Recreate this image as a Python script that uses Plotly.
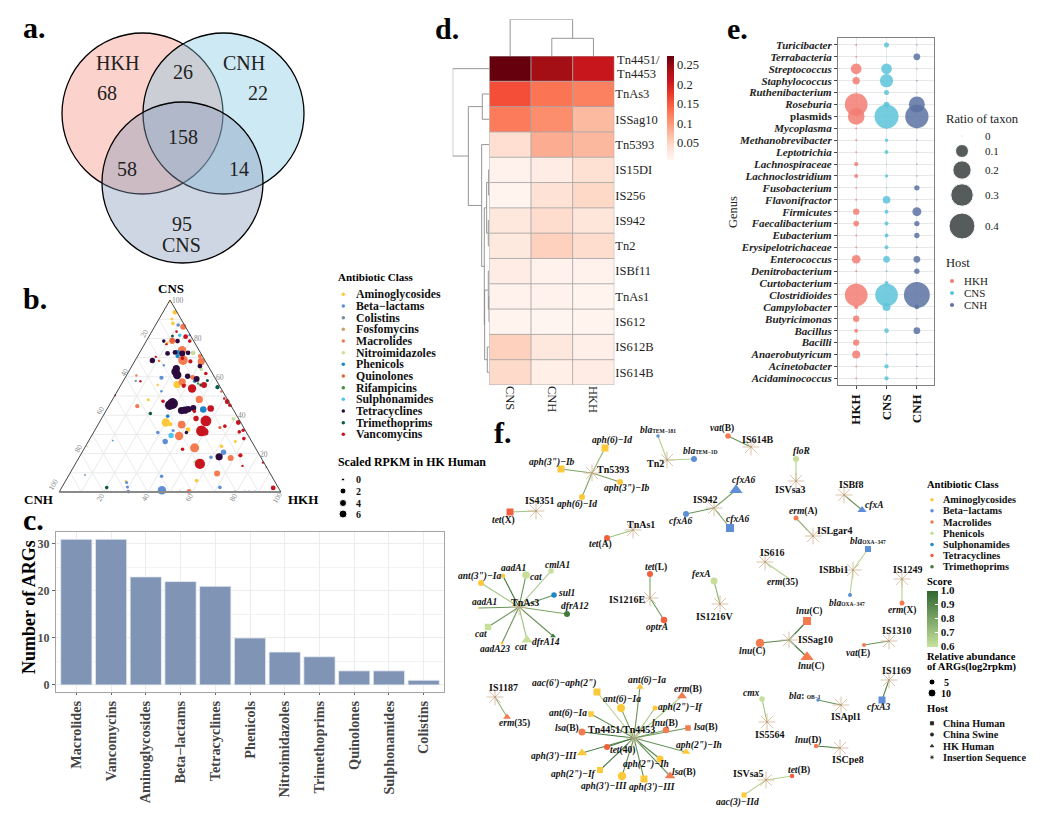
import plotly.graph_objects as go

W, H = 1048, 817
SERIF = "Liberation Serif"

# ---------- panel a: Venn counts
venn_sets = ["HKH", "CNH", "CNS"]
venn_counts = ["68", "22", "95", "26", "58", "14", "158"]

# ---------- panel b: ternary composition (percent CNS, percent HKH, scaled RPKM)
class_names = ["Aminoglycosides", "Beta\u2212lactams", "Colistins", "Fosfomycins", "Macrolides", "Nitroimidazoles",
               "Phenicols", "Quinolones", "Rifampicins", "Sulphonamides", "Tetracyclines", "Trimethoprims", "Vancomycins"]
class_colors = ["#fdc93a", "#5e8fd6", "#7b8ba0", "#c9a26a", "#f47a50", "#c7df9b",
                "#1f85c9", "#ee5e34", "#3f8f3f", "#4ec3ec", "#2d0a3e", "#0d5c46", "#c8141e"]

amino_cns = [93.6, 90.1, 87.8, 77.7, 67, 56, 55.7, 48, 36.2, 35.3, 32.5, 23.8, 26.3, 5.9, 5.6, 99, 43]
amino_hkh = [5.4, 5.8, 7.4, 10, 22.4, 25.2, 16.6, 16.2, 30, 32.5, 41.9, 61.3, 66.3, 59, 27.3, 0.4, 32.9]
amino_rpkm = [4, 2.5, 3, 2, 3, 6, 2, 2.5, 7, 3.5, 4, 3, 2.5, 3, 2, 1.5, 2]
beta_cns = [59.5, 52.5, 26.3, 31, 32, 26.8, 8.9, 4.9, 2.6, 8.2, 0.9, 2.4, 18.1, 20.7, 66, 0.2, 0.2, 13, 0.3, 0.3, 0.3, 0.3, 0.3, 87, 81.7]
beta_hkh = [16.4, 19.9, 34.7, 29, 35.4, 10.8, 7.2, 28, 29.5, 42.1, 45.9, 71.3, 59.4, 63.8, 14.2, 9.3, 31.1, 87, 54.4, 83.6, 85.6, 88.2, 63.4, 10.2, 18]
beta_rpkm = [3.5, 2, 4.5, 3, 2.5, 1.5, 1.5, 2.5, 2.5, 3, 7, 3, 3, 4.5, 2, 1, 3, 1.5, 1.5, 1.5, 1.5, 1.5, 1.2, 3, 2]
coli_cns = [57.9]
coli_hkh = [5.6]
coli_rpkm = [2]
fosfo_cns = [0.3, 83.8]
fosfo_hkh = [79.2, 11]
fosfo_rpkm = [2, 2]
macro_cns = [68.7, 73.9, 68, 57.4, 48.2, 35.1, 29.2, 23, 17.7, 9.7, 0.3, 86.1, 78.6, 70.8, 59.7, 44.7, 60.7]
macro_hkh = [21.5, 18.5, 30.1, 26.8, 39.1, 37.7, 39.5, 49.6, 68.5, 66.4, 58.4, 12.9, 11.7, 28.1, 30.4, 12.9, 4.5]
macro_rpkm = [8, 7, 6, 6, 6, 6.5, 7, 7.5, 5, 5, 4, 5, 5, 3.5, 4, 3.5, 2]
nitro_cns = [72.5, 38.1, 63.8, 15.8, 23.8]
nitro_hkh = [24.2, 59.5, 32.3, 53.3, 0.7]
nitro_rpkm = [4, 3, 3, 2.5, 1.5]
phen_cns = [43, 39.5, 72.7, 70.8, 57.7]
phen_hkh = [43.5, 29.2, 17.1, 18, 32.3]
phen_rpkm = [5.5, 3, 4, 3.5, 3]
quino_cns = [68.3, 79.1, 52.3, 33.6, 55.7, 47.8]
quino_hkh = [10.9, 11.4, 47, 55.7, 28.9, 51.6]
quino_rpkm = [2, 4, 2, 2.5, 2, 2]
rifa_cns = [56.5]
rifa_hkh = [34.4]
rifa_rpkm = [2]
sulph_cns = [29.4, 81.6]
sulph_hkh = [35.8, 13.6]
sulph_rpkm = [4.5, 3]
tetra_cns = [78.6, 78.6, 72.2, 72.7, 72.2, 72.5, 68.5, 64.3, 62.6, 60.9, 60.3, 58.8, 46.1, 45.2, 42.4, 42.6, 43.1, 43.8, 31, 18.3, 65.6]
tetra_hkh = [7.9, 14.1, 12.8, 15.9, 19.4, 21.9, 7.8, 20.7, 21.2, 22.8, 27.8, 32.6, 28.1, 27.3, 34, 35.4, 36.6, 38.6, 41.9, 63, 30.7]
tetra_rpkm = [3, 4, 4, 4, 5, 4, 4.5, 6, 7, 7, 4.5, 5, 9, 8, 6, 6, 5.5, 5, 3, 6, 4]
trim_cns = [40.9, 54.6, 58.1, 55.7, 2.3, 81.2]
trim_hkh = [20.7, 44.1, 37.8, 36, 20.3, 10.5]
trim_rpkm = [3, 3.5, 2.5, 2.5, 3, 2.5]
vanco_cns = [53.9, 55.3, 37, 31.8, 31.3, 43.5, 38.3, 14.6, 22.3, 19.1, 13.6, 34.3, 36.2, 31.3, 32.2, 27.8, 47, 45.2, 48.7, 61.7, 55.7, 68, 80.9, 78.6, 47.3, 57.7, 70.4, 83.5, 2.1, 15.3, 50.4, 77, 69.6, 42]
vanco_hkh = [33, 28.5, 47.7, 48.3, 50.1, 46.6, 42.6, 56.2, 44.5, 72.2, 75.9, 57.6, 62.7, 65.6, 66.9, 69.4, 52.3, 54.4, 50.1, 35.3, 37.5, 25.2, 16.6, 19.6, 23.2, 7.8, 8.4, 11.2, 95.5, 84.3, 0.1, 9.9, 20.8, 40]
vanco_rpkm = [7, 3.5, 9, 9, 6, 5.5, 4.5, 8.5, 3, 3.5, 2, 3, 4, 3, 3, 3, 4, 3, 2, 3, 5, 3.5, 4, 3, 3, 2, 2, 2, 4, 2, 1.5, 2, 3, 3]

tern_series = [(amino_cns, amino_hkh, amino_rpkm), (beta_cns, beta_hkh, beta_rpkm), (coli_cns, coli_hkh, coli_rpkm),
               (fosfo_cns, fosfo_hkh, fosfo_rpkm), (macro_cns, macro_hkh, macro_rpkm), (nitro_cns, nitro_hkh, nitro_rpkm),
               (phen_cns, phen_hkh, phen_rpkm), (quino_cns, quino_hkh, quino_rpkm), (rifa_cns, rifa_hkh, rifa_rpkm),
               (sulph_cns, sulph_hkh, sulph_rpkm), (tetra_cns, tetra_hkh, tetra_rpkm), (trim_cns, trim_hkh, trim_rpkm),
               (vanco_cns, vanco_hkh, vanco_rpkm)]

# ---------- panel c: bars
bar_classes = ["Macrolides", "Vancomycins", "Aminoglycosides", "Beta\u2212lactams", "Tetracyclines", "Phenicols",
               "Nitroimidazoles", "Trimethoprims", "Quinolones", "Sulphonamides", "Colistins"]
bar_counts = [31, 31, 23, 22, 21, 10, 7, 6, 3, 3, 1]

# ---------- panel d: heatmap
heat_rows = ["Tn4451/<br>Tn4453", "TnAs3", "ISSag10", "Tn5393", "IS15DI", "IS256", "IS942", "Tn2", "ISBf11", "TnAs1", "IS612", "IS612B", "IS614B"]
heat_cols = ["CNS", "CNH", "HKH"]
heat_cns = [0.273, 0.160, 0.125, 0.040, 0.012, 0.008, 0.028, 0.025, 0.018, 0.010, 0.008, 0.053, 0.045]
heat_cnh = [0.240, 0.130, 0.110, 0.085, 0.018, 0.036, 0.042, 0.053, 0.010, 0.010, 0.006, 0.028, 0.016]
heat_hkh = [0.210, 0.120, 0.073, 0.075, 0.038, 0.046, 0.030, 0.042, 0.011, 0.008, 0.008, 0.015, 0.018]
col_tree = (110, 0, (53, 1, 2))
row_tree = (110, 0, (63, (21, 1, 2), (23, 3, (15, (8, (2, 4, 5), (3, 6, 7)), (14, (3, 8, (1, 9, 10)), (6, 11, 12))))))

# ---------- panel e: bubbles (ratio of taxon)
genera = ["Turicibacter", "Terrabacteria", "Streptococcus", "Staphylococcus", "Ruthenibacterium", "Roseburia", "plasmids",
          "Mycoplasma", "Methanobrevibacter", "Leptotrichia", "Lachnospiraceae", "Lachnoclostridium", "Fusobacterium",
          "Flavonifractor", "Firmicutes", "Faecalibacterium", "Eubacterium", "Erysipelotrichaceae", "Enterococcus",
          "Denitrobacterium", "Curtobacterium", "Clostridioides", "Campylobacter", "Butyricimonas", "Bacillus", "Bacilli",
          "Anaerobutyricum", "Acinetobacter", "Acidaminococcus"]
bubble_hosts = ["HKH", "CNS", "CNH"]
bubble_colors = ["#f27d72", "#5cc4d8", "#5b72a2"]
ratio_hkh = [.002, .002, .068, .032, .001, .306, .165, .002, .002, .002, .011, .0095, .002, .002, .024, .019, .002, .002, .045, .002, .001, .306, .011, .024, .0095, .024, .038, .002, .002]
ratio_cns = [.015, .0005, .068, .105, .015, .019, .343, .002, .0066, .0095, .001, .0066, .001, .035, .0095, .0095, .0095, .0095, .027, .002, .0095, .306, .038, .001, .013, .001, .002, .011, .011]
ratio_cnh = [.001, .027, .001, .001, .001, .152, .323, .001, .001, .001, .001, .001, .017, .001, .048, .017, .017, .001, .027, .017, .001, .400, .013, .001, .027, .001, .001, .001, .001]
ratio_legend = [0, 0.1, 0.2, 0.3, 0.4]

# ---------- panel f: network
hub_names = ["Tn5393", "Tn2", "IS4351", "TnAs1", "IS942", "IS614B", "ISVsa3", "ISBf8", "ISLgar4", "IS616", "ISBbi1", "IS1249",
             "TnAs3", "IS1216E", "IS1216V", "ISSag10", "IS1310", "IS1169", "ISApl1", "IS5564", "ISCpe8", "ISVsa5", "IS1187", "Tn4451/Tn4453"]
hub_x = [592, 667, 536, 633, 714, 751, 796, 844, 813, 765, 853, 902, 519, 650, 720, 789, 889, 889, 841, 767, 840, 766, 495, 634]
hub_y = [473, 460, 511, 530, 508, 447, 481, 495, 536, 562, 570, 579, 607, 598, 604, 640, 641, 680, 705, 722, 748, 780, 697, 738]
hub_label_x = [613, 655, 539, 641, 705, 757, 790, 851, 835, 772, 833, 907, 525, 627, 714, 815, 896, 896, 846, 769, 848, 748, 503, 621]
hub_label_y = [469, 463, 500, 524, 499, 439, 489, 484, 530, 552, 569, 569, 602, 599, 616, 639, 630, 670, 716, 734, 759, 773, 687, 729]

small = '<span style="font-size:5.5px">%s</span>'
gene_labels = ["<i>aph(6)\u2212Id</i>", "<i>aph(3\")\u2212Ib</i>", "<i>aph(3\")\u2212Ib</i>", "<i>aph(6)\u2212Id</i>",
               "<i>bla</i>" + small % "TEM\u2212181", "<i>bla</i>" + small % "TEM\u22121D", "<i>tet</i>(X)", "<i>tet</i>(A)",
               "<i>cfxA6</i>", "<i>cfxA6</i>", "<i>cfxA6</i>", "<i>vat</i>(B)", "<i>floR</i>", "<i>cfxA</i>", "<i>erm</i>(A)",
               "<i>erm</i>(35)", "<i>bla</i>" + small % "OXA\u2212347", "<i>bla</i>" + small % "OXA\u2212347", "<i>erm</i>(X)",
               "<i>ant(3\")\u2212Ia</i>", "<i>aadA1</i>", "<i>cat</i>", "<i>cmlA1</i>", "<i>sul1</i>", "<i>dfrA12</i>", "<i>aadA1</i>",
               "<i>cat</i>", "<i>aadA23</i>", "<i>cat</i>", "<i>dfrA14</i>",
               "<i>tet</i>(L)", "<i>optrA</i>", "<i>fexA</i>", "<i>lnu</i>(C)", "<i>lnu</i>(C)", "<i>lnu</i>(C)", "<i>vat</i>(E)",
               "<i>cfxA3</i>", "<i>bla</i>: " + small % "OB\u22121", "<i>cmx</i>", "<i>lnu</i>(D)", "<i>tet</i>(B)", "<i>aac(3)\u2212IId</i>", "<i>erm</i>(35)",
               "<i>aac(6')\u2212aph(2\")</i>", "<i>ant(6)\u2212Ia</i>", "<i>ant(6)\u2212Ia</i>", "<i>erm</i>(B)", "<i>aph(2\")\u2212If</i>", "<i>ant(6)\u2212Ia</i>",
               "<i>lnu</i>(B)", "<i>lsa</i>(B)", "<i>lsa</i>(B)", "<i>aph(2\")\u2212Ih</i>", "<i>tet</i>(40)", "<i>aph(3')\u2212III</i>", "<i>aph(2\")\u2212Ih</i>",
               "<i>aph(2\")\u2212If</i>", "<i>aph(3')\u2212III</i>", "<i>aph(3')\u2212III</i>", "<i>lsa</i>(B)"]
gene_hub = [0, 0, 0, 0, 1, 1, 2, 3, 4, 4, 4, 5, 6, 7, 8, 9, 10, 10, 11,
            12, 12, 12, 12, 12, 12, 12, 12, 12, 12, 12,
            13, 13, 14, 15, 15, 15, 16, 17, 18, 19, 20, 21, 21, 22,
            23, 23, 23, 23, 23, 23, 23, 23, 23, 23, 23, 23, 23, 23, 23, 23, 23]
gene_class = ["A", "A", "A", "A", "B", "B", "T", "T", "B", "B", "B", "M", "P", "B", "M", "M", "B", "B", "M",
              "A", "A", "P", "P", "S", "R", "A", "P", "A", "P", "R",
              "T", "T", "P", "M", "M", "M", "M", "B", "B", "P", "M", "T", "A", "M",
              "A", "A", "A", "M", "A", "A", "M", "M", "M", "A", "T", "A", "A", "A", "A", "A", "M"]
gene_host = ["H", "H", "S", "S", "S", "S", "H", "S", "K", "S", "H", "S", "S", "K", "S", "S", "H", "S", "S",
             "S", "S", "S", "S", "S", "S", "S", "H", "S", "K", "K",
             "S", "S", "S", "H", "S", "K", "S", "H", "S", "S", "S", "S", "H", "K",
             "H", "K", "S", "K", "S", "H", "S", "H", "S", "K", "S", "K", "S", "H", "S", "H", "K"]
gene_x = [605, 561, 620, 582, 658, 694, 510, 607, 736, 686, 730, 728, 796, 862, 796, 788, 868, 850, 902,
          481, 503, 526, 551, 554, 567, 479, 488, 502, 527, 553,
          650, 664, 714, 807, 760, 807, 864, 882, 818, 762, 816, 792, 744, 507,
          597, 640, 621, 682, 655, 591, 666, 688, 582, 686, 607, 582, 660, 600, 622, 644, 670]
gene_y = [448, 469, 482, 497, 436, 459, 512, 538, 490, 514, 528, 436, 459, 510, 518, 578, 549, 595, 603,
          583, 576, 575, 571, 595, 614, 608, 627, 643, 640, 636,
          574, 620, 581, 621, 643, 657, 645, 700, 700, 699, 746, 776, 795, 717,
          692, 687, 708, 696, 708, 714, 730, 728, 732, 752, 747, 753, 759, 770, 776, 779, 776]
gene_abund = [7, 7, 6, 6, 3.5, 6, 7, 6, 10, 6, 8, 5.5, 6, 7, 5, 1, 6, 4, 5,
              6, 4.5, 7.5, 5.5, 5.5, 6, 2, 6.5, 3, 8.5, 4.5,
              6, 6.5, 7, 8, 8.5, 10, 4, 7, 3.5, 5.5, 4.5, 4.5, 5, 6,
              7, 6, 8, 7.5, 5, 5.5, 6.5, 5.5, 7, 6.5, 6, 8, 7, 6, 8.5, 7, 8]
gene_score = [.75, .8, .8, .8, .65, .65, .7, .7, .8, .85, .8, .85, .65, .85, .75, .65, .65, .65, .65,
              .7, .95, .85, .7, .85, .8, .85, .85, .85, .7, .85,
              .8, .85, .75, .95, .9, .95, .85, .9, .85, .7, .95, .65, .65, .75,
              .65, .85, .8, .65, .7, .85, .8, .85, .95, .85, .95, .9, .9, .95, .85, .85, .85]
gene_label_x = [612, 552, 627, 577, 658, 700, 503, 600, 743, 680, 737, 722, 801, 874, 803, 782, 868, 847, 902,
                479, 513, 536, 557, 566, 575, 484, 481, 495, 521, 546,
                656, 657, 701, 809, 752, 811, 858, 878, 805, 751, 808, 799, 737, 514,
                564, 647, 622, 688, 680, 568, 665, 706, 567, 699, 622, 554, 646, 573, 604, 652, 684]
gene_label_y = [440, 462, 488, 504, 430, 451, 520, 544, 480, 521, 519, 428, 451, 505, 511, 582, 541, 603, 610,
                576, 568, 577, 565, 593, 606, 602, 634, 649, 647, 642,
                567, 627, 574, 611, 651, 666, 653, 707, 696, 693, 740, 770, 802, 723,
                683, 680, 699, 689, 707, 713, 723, 727, 728, 745, 750, 756, 764, 774, 786, 787, 772]

net_class_names = ["Aminoglycosides", "Beta\u2212lactams", "Macrolides", "Phenicols", "Sulphonamides", "Tetracyclines", "Trimethoprims"]
net_class_keys = ["A", "B", "M", "P", "S", "T", "R"]
net_class_colors = ["#fdc93a", "#5e8fd6", "#f47a50", "#c7df9b", "#1f85c9", "#f0603e", "#3d7a3a"]
host_names = ["China Human", "China Swine", "HK Human", "Insertion Sequence"]
host_keys = ["H", "S", "K"]
host_symbols = ["square", "circle", "triangle-up"]
score_ticks = [0.6, 0.7, 0.8, 0.9, 1.0]

# ---------- helpers


def dx(a, b):
    return [a / W, b / W]


def dy(top, bot):
    return [1 - bot / H, 1 - top / H]


annotations = []


def T(x, y, text, size=12, bold=False, anchor="center", color="#000", angle=0):
    s = f"<b>{text}</b>" if bold else text
    annotations.append(dict(x=x, y=y, xref="x", yref="y", text=s, showarrow=False, xanchor=anchor, yanchor="middle",
                            textangle=angle, borderpad=0, borderwidth=0, font=dict(family=SERIF, size=size, color=color)))


def tree_lines(node):
    """Leaf position and height of a nested (height, left, right) cluster, with the segments that draw it."""
    if isinstance(node, int):
        return node, 0, [], []
    h, l, r = node
    lp, lh, lu, lv = tree_lines(l)
    rp, rh, ru, rv = tree_lines(r)
    u = lu + ru + [h, h, None, h, lh, None, h, rh, None]
    v = lv + rv + [lp, rp, None, lp, lp, None, rp, rp, None]
    return (lp + rp) / 2, h, u, v


fig = go.Figure()

# canvas axes (pixel-sized, used for panel a, panel f, legends and text)
fig.add_trace(go.Scatter(x=[0, W], y=[0, H], mode="markers", marker=dict(size=0.1, opacity=0), hoverinfo="skip", showlegend=False))

# ---------- panel a
venn_geom = [(142.5, 113.5, 80.5, "rgba(247,142,127,0.40)"), (223.5, 113.5, 80.5, "rgba(130,200,225,0.40)"), (182.5, 182.5, 80.5, "rgba(135,152,185,0.40)")]
shapes = []
for cx, cy, r, fc in venn_geom:
    shapes.append(dict(type="circle", xref="x", yref="y", x0=cx - r, x1=cx + r, y0=cy - r, y1=cy + r, fillcolor=fc,
                       line=dict(color="#000", width=1.3), layer="above"))
for (x, y), t in zip([(107, 93), (258, 93), (182, 224), (183, 72), (127, 169), (239, 169), (183, 137)], venn_counts):
    T(x, y, t, 20, color="#222")
for (x, y), t in zip([(117, 63), (244, 63), (181, 245)], venn_sets):
    T(x, y, t, 20, color="#222")

# ---------- panel b
for name, col, (cns, hkh, rp) in zip(class_names, class_colors, tern_series):
    fig.add_trace(go.Scatterternary(a=cns, c=hkh, b=[round(100 - p - q, 1) for p, q in zip(cns, hkh)], mode="markers", name=name,
                                    marker=dict(size=[1.2 * r for r in rp], color=col, opacity=1, line=dict(width=0)), showlegend=False, hoverinfo="skip", cliponaxis=False))


def tern_axis(line="#444", width=1):
    return dict(title=dict(text=""), showticklabels=False, ticks="", showgrid=True, gridcolor="#ebebeb", gridwidth=1, dtick=10, linecolor=line, linewidth=width, min=0)


T(171, 288, "CNS", 13, True)
T(38, 499, "CNH", 13, True)
T(303, 499, "HKH", 13, True)
for x, y, t in zip([178, 198, 220, 242, 264], [300, 338, 377, 415, 454], ["100", "80", "60", "40", "20"]):
    T(x, y, t, 7.5, color="#888")
for x, y, t in zip([144, 124, 100, 78, 53], [333, 372, 410, 448, 484], ["20", "40", "60", "80", "100"]):
    T(x, y, t, 7.5, color="#888", angle=-60)
for x, y, t in zip([100, 145, 189, 233, 277], [497, 497, 497, 497, 497], ["20", "40", "60", "80", "100"]):
    T(x, y, t, 7.5, color="#888", angle=-60)
T(337.5, 277, "Antibiotic Class", 11, True, "left")
row_b = [294.3 + 11.67 * i for i in range(13)]
fig.add_trace(go.Scatter(x=[343.3] * 13, y=row_b, mode="markers", marker=dict(size=3.5, color=class_colors, opacity=1), hoverinfo="skip", showlegend=False))
for y, t in zip(row_b, class_names):
    T(355.5, y, t, 11.8, True, "left", "#111")
T(337.5, 462, "Scaled RPKM in HK Human", 11.9, True, "left")
scaled_legend = ["0", "2", "4", "6"]
fig.add_trace(go.Scatter(x=[343] * 4, y=[479.5, 491, 503, 514], mode="markers", marker=dict(size=[3, 6, 7, 8], color="#000", opacity=1), hoverinfo="skip", showlegend=False))
for y, t in zip([479.5, 491, 503, 514], scaled_legend):
    T(358, y, t, 10, True, "center", "#111")

# ---------- panel c
fig.add_trace(go.Bar(x=bar_classes, y=bar_counts, xaxis="x2", yaxis="y2", width=0.9, marker=dict(color="#8094b6", line=dict(color="#e8edf4", width=0.8)),
                     hoverinfo="skip", showlegend=False))
T(29, 607, "Number of ARGs", 18, True, angle=-90)

# ---------- panel d
heat_z = [list(v) for v in zip(heat_cns, heat_cnh, heat_hkh)]
reds = ["#fff5f0", "#fee0d2", "#fcbba1", "#fc9272", "#fb6a4a", "#ef3b2c", "#cb181d", "#a50f15", "#67000d"]
fig.add_trace(go.Heatmap(z=heat_z, x=[0, 1, 2], y=list(range(13)), xaxis="x3", yaxis="y3", zmin=0.006, zmax=0.273,
                         colorscale=[[i / 8, c] for i, c in enumerate(reds)], hoverinfo="skip",
                         colorbar=dict(x=667 / W, xanchor="left", y=1 - 56 / H, yanchor="top", thickness=7, thicknessmode="pixels",
                                       len=104, lenmode="pixels", tickvals=[0.05, 0.1, 0.15, 0.2, 0.25], ticktext=["0.05", "0.1", "0.15", "0.2", "0.25"],
                                       ticks="", outlinewidth=0, xpad=0, ypad=0, tickfont=dict(family=SERIF, size=12.5, color="#222"))))
gx, gy = [], []
for i in range(4):
    gx += [i - 0.5, i - 0.5, None]
    gy += [-0.5, 12.5, None]
for j in range(14):
    gx += [-0.5, 2.5, None]
    gy += [j - 0.5, j - 0.5, None]
fig.add_trace(go.Scatter(x=gx, y=gy, xaxis="x3", yaxis="y3", mode="lines", line=dict(color="#a8a8a8", width=0.9), hoverinfo="skip", showlegend=False, cliponaxis=False))
_, _, cu, cv = tree_lines(col_tree)
fig.add_trace(go.Scatter(x=cv, y=cu, xaxis="x4", yaxis="y4", mode="lines", line=dict(color="#8a8a8a", width=0.9), hoverinfo="skip", showlegend=False))
_, _, ru, rv = tree_lines(row_tree)
fig.add_trace(go.Scatter(x=ru, y=rv, xaxis="x5", yaxis="y5", mode="lines", line=dict(color="#8a8a8a", width=0.9), hoverinfo="skip", showlegend=False))
first_row = heat_rows[0].split("<br>")
for y, t in zip([60, 74], first_row):
    T(616.5, y, t, 12.5, anchor="left", color="#222")

# ---------- panel e
for host, col, vals in zip(bubble_hosts, bubble_colors, [ratio_hkh, ratio_cns, ratio_cnh]):
    fig.add_trace(go.Scatter(x=[host] * len(genera), y=genera, xaxis="x6", yaxis="y6", mode="markers",
                             marker=dict(size=[41 * v ** 0.5 for v in vals], color=col, opacity=0.85, line=dict(width=0)), hoverinfo="skip", showlegend=False))
T(733, 212, "Genus", 12.5, angle=-90, color="#222")
T(946, 119, "Ratio of taxon", 12.6, anchor="left", color="#222")
rl_y = [136, 151, 170, 195, 226]
fig.add_trace(go.Scatter(x=[962] * 5, y=rl_y, mode="markers", marker=dict(size=[max(41 * v ** 0.5, 1) for v in ratio_legend], color="#565b5c", opacity=1), hoverinfo="skip", showlegend=False))
for y, v in zip(rl_y, ratio_legend):
    T(985, y, str(v), 11, color="#222", anchor="left")
T(946, 263, "Host", 12.6, anchor="left", color="#222")
hl_y = [281, 293, 305]
fig.add_trace(go.Scatter(x=[952] * 3, y=hl_y, mode="markers", marker=dict(size=4, color=bubble_colors, opacity=1), hoverinfo="skip", showlegend=False))
for y, t in zip(hl_y, bubble_hosts):
    T(964, y, t, 11, anchor="left", color="#222")

# ---------- panel f


def score_color(s):
    low, high = (199, 226, 156), (47, 102, 48)
    f = (s - 0.6) / 0.4
    return "rgb(%d,%d,%d)" % tuple(round(a + (b - a) * f) for a, b in zip(low, high))


for g, h in enumerate(gene_hub):
    fig.add_trace(go.Scatter(x=[gene_x[g], hub_x[h]], y=[gene_y[g], hub_y[h]], mode="lines", line=dict(color=score_color(gene_score[g]), width=1.1),
                             hoverinfo="skip", showlegend=False))
sym = dict(zip(host_keys, host_symbols))
ccol = dict(zip(net_class_keys, net_class_colors))
fig.add_trace(go.Scatter(x=gene_x, y=gene_y, mode="markers",
                         marker=dict(size=[a * (1.15 if k == "K" else 1) for a, k in zip(gene_abund, gene_host)], color=[ccol[k] for k in gene_class],
                                     symbol=[sym[k] for k in gene_host], opacity=1, line=dict(width=0)),
                         hoverinfo="skip", showlegend=False))
fig.add_trace(go.Scatter(x=hub_x, y=hub_y, mode="markers", marker=dict(size=14, symbol="asterisk-open", color="#d9bd9f", line=dict(color="#d9bd9f", width=0.9)),
                         hoverinfo="skip", showlegend=False))
fig.add_trace(go.Scatter(x=hub_x, y=hub_y, mode="markers", marker=dict(size=1.6, color="#9a8268"), hoverinfo="skip", showlegend=False))
for x, y, t in zip(gene_label_x, gene_label_y, gene_labels):
    T(x, y, t, 9.5, True, color="#111")
for x, y, t in zip(hub_label_x, hub_label_y, hub_names):
    T(x, y, t, 10, True, color="#111")

T(927, 484, "Antibiotic Class", 10.5, True, "left")
row_f = [499.7 + 11.17 * i for i in range(7)]
fig.add_trace(go.Scatter(x=[932] * 7, y=row_f, mode="markers", marker=dict(size=3.5, color=net_class_colors, opacity=1), hoverinfo="skip", showlegend=False))
for y, t in zip(row_f, net_class_names):
    T(943, y, t, 10.2, True, "left", "#111")
T(927, 581, "Score", 10.5, True, "left")
fig.add_trace(go.Scatter(x=[None], y=[None], mode="markers", hoverinfo="skip", showlegend=False,
                         marker=dict(color=[0.6], cmin=0.6, cmax=1.0, colorscale=[[0, "#c7e29c"], [1, "#2f6630"]], showscale=True,
                                     colorbar=dict(x=927 / W, xanchor="left", y=1 - 590.5 / H, yanchor="top", thickness=11, thicknessmode="pixels",
                                                   len=56, lenmode="pixels", tickvals=score_ticks, ticktext=["0.6", "0.7", "0.8", "0.9", "1.0"],
                                                   ticks="inside", ticklen=3, tickcolor="#fff", outlinewidth=0, xpad=0, ypad=0,
                                                   tickfont=dict(family=SERIF, size=11, color="#111", weight="bold")))))
T(927, 656, "Relative abundance", 10.5, True, "left")
T(927, 667, "of ARGs(log2rpkm)", 10.5, True, "left")
abund_legend = ["5", "10"]
fig.add_trace(go.Scatter(x=[932, 932], y=[682, 693], mode="markers", marker=dict(size=[6, 8], color="#000", opacity=1), hoverinfo="skip", showlegend=False))
for y, t in zip([682, 693], abund_legend):
    T(946, y, t, 10, True)
T(927, 708, "Host", 10.5, True, "left")
host_rows = [723.3, 734.5, 746, 757.3]
fig.add_trace(go.Scatter(x=[932] * 4, y=host_rows, mode="markers", marker=dict(size=3.2, color="#222", symbol=host_symbols + ["asterisk-open"], line=dict(color="#222", width=0.8)),
                         hoverinfo="skip", showlegend=False))
for y, t in zip(host_rows, host_names):
    T(943, y, t, 10.2, True, "left", "#111")

# panel letters
for x, y, t in zip([34, 35, 33, 447, 737, 503], [27, 298, 519, 28, 28, 432], ["a.", "b.", "c.", "d.", "e.", "f."]):
    T(x, y, t, 30, True)

# ---------- layout
frame_c = dict(showline=True, mirror=True, linecolor="#a5a5a5", linewidth=1.2, zeroline=False)
frame_e = dict(showline=True, mirror=True, linecolor="#808080", linewidth=1.2, zeroline=False)
plain = dict(visible=False, showgrid=False, zeroline=False)

fig.update_layout(
    width=W, height=H, autosize=False, margin=dict(l=0, r=0, t=0, b=0), paper_bgcolor="#fff", plot_bgcolor="rgba(0,0,0,0)",
    showlegend=False, font=dict(family=SERIF), shapes=shapes, annotations=annotations, hovermode=False,
    xaxis=dict(domain=[0, 1], range=[0, W], **plain),
    yaxis=dict(domain=[0, 1], range=[H, 0], **plain),
    ternary=dict(domain=dict(x=dx(59, 281), y=dy(300, 492)), sum=100, bgcolor="#fff", aaxis=tern_axis(), baxis=tern_axis("#8a8a8a", 2), caxis=tern_axis()),
    xaxis2=dict(domain=dx(56, 444), anchor="y2", range=[-0.585, 10.585], type="category", categoryorder="array", categoryarray=bar_classes,
                showgrid=True, gridcolor="#ececec", ticks="outside", ticklen=2, tickcolor="#666", tickangle=-90,
                tickfont=dict(family=SERIF, size=14.3, color="#444", weight="bold"), **frame_c),
    yaxis2=dict(domain=dy(532, 692), anchor="x2", range=[-1.5, 32.55], tickvals=[0, 10, 20, 30], showgrid=True, gridcolor="#ececec",
                minor=dict(dtick=5, showgrid=True, gridcolor="#f3f3f3", gridwidth=0.6), ticks="outside", ticklen=3, tickcolor="#666",
                tickfont=dict(family=SERIF, size=12, color="#4d4d4d", weight="bold"), **frame_c),
    xaxis3=dict(domain=dx(489.3, 614.3), anchor="y3", range=[-0.5, 2.5], tickvals=[0, 1, 2], ticktext=heat_cols, tickangle=90, ticklen=0, showgrid=False, zeroline=False,
                showline=False, tickfont=dict(family=SERIF, size=12.5, color="#222")),
    yaxis3=dict(domain=dy(56, 385), anchor="x3", range=[12.5, -0.5], side="right", tickvals=list(range(1, 13)), ticktext=heat_rows[1:], ticklen=0, showgrid=False, zeroline=False,
                showline=False, tickfont=dict(family=SERIF, size=12.5, color="#222")),
    xaxis4=dict(domain=dx(489.3, 614.3), anchor="y4", range=[-0.5, 2.5], **plain),
    yaxis4=dict(domain=dy(19.3, 56), anchor="x4", range=[0, 110], **plain),
    xaxis5=dict(domain=dx(452.7, 489.3), anchor="y5", range=[110, 0], **plain),
    yaxis5=dict(domain=dy(56, 385), anchor="x5", range=[12.5, -0.5], **plain),
    xaxis6=dict(domain=dx(838, 934.3), anchor="y6", type="category", categoryorder="array", categoryarray=bubble_hosts, range=[-0.6, 2.575],
                showgrid=True, gridcolor="#e6eaf0", ticks="outside", ticklen=3, tickcolor="#444", tickangle=-90,
                tickfont=dict(family=SERIF, size=13, color="#111", weight="bold"), **frame_e),
    yaxis6=dict(domain=dy(38.3, 385), anchor="x6", type="category", categoryorder="array", categoryarray=genera, range=[28.56, -0.56],
                tickvals=genera, ticktext=[f"<b>{g}</b>" if g == "plasmids" else f"<b><i>{g}</i></b>" for g in genera],
                showgrid=True, gridcolor="#e8e8e8", gridwidth=1.2, ticks="outside", ticklen=3, tickcolor="#444",
                tickfont=dict(family=SERIF, size=11, color="#222"), **frame_e),
)

fig.write_html("out.html", config=dict(displayModeBar=False), post_script="document.body.style.margin='0';document.body.style.overflow='hidden';")
